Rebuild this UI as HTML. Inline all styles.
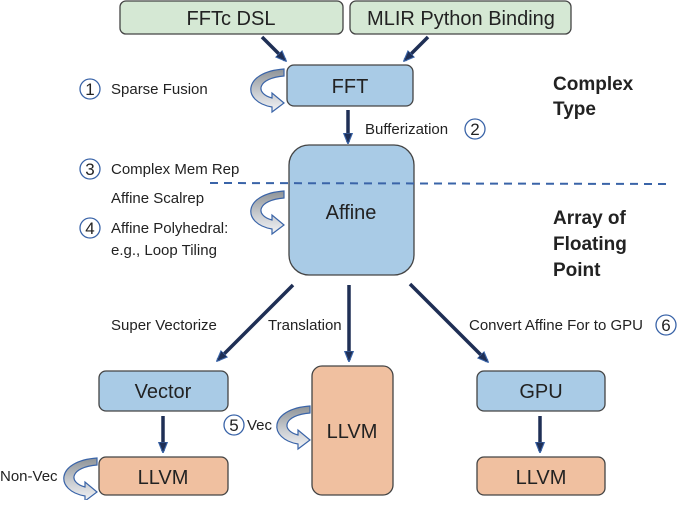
<!DOCTYPE html>
<html><head><meta charset="utf-8"><style>
body{margin:0;background:#fff}
svg text{font-family:"Liberation Sans",sans-serif}
</style></head><body>
<svg width="685" height="500" viewBox="0 0 685 500" xmlns="http://www.w3.org/2000/svg">
<defs>
<linearGradient id="g" x1="0" y1="0" x2="0" y2="1"><stop offset="0" stop-color="#8e9397"/><stop offset="0.55" stop-color="#c9ccd0"/><stop offset="1" stop-color="#f3f4f6"/></linearGradient>
<marker id="ah" viewBox="0 0 10 10" refX="8" refY="5" markerWidth="3.2" markerHeight="3.2" orient="auto"><path d="M0,1 L10,5 L0,9 z" fill="#1f2f55" stroke="#3a64a8" stroke-width="1"/></marker>
<g id="curl"><path d="M0,0 L0,7 C-26,9 -30,24 -12,29 L-12,24 L0,34 L-12,43 L-12,38 C-42,33 -42,3 0,0 Z" fill="url(#g)" stroke="#3a64a8" stroke-width="1.2"/></g>
</defs>
<g stroke="#444" stroke-width="1.3">
<rect x="120" y="1" width="223" height="33" rx="6" fill="#d5e8d4"/>
<rect x="350" y="1" width="221" height="33" rx="6" fill="#d5e8d4"/>
<rect x="287" y="65" width="126" height="41" rx="7" fill="#a9cbe6"/>
<rect x="289" y="145" width="125" height="130" rx="20" fill="#a9cbe6"/>
<rect x="99" y="371" width="129" height="40" rx="7" fill="#a9cbe6"/>
<rect x="477" y="371" width="128" height="40" rx="7" fill="#a9cbe6"/>
<rect x="312" y="366" width="81" height="129" rx="10" fill="#f0c0a0"/>
<rect x="99" y="457" width="129" height="38" rx="7" fill="#f0c0a0"/>
<rect x="477" y="457" width="128" height="38" rx="7" fill="#f0c0a0"/>
</g>
<line x1="210" y1="183" x2="670" y2="184" stroke="#3a64a8" stroke-width="2" stroke-dasharray="8,6"/>
<g stroke="#1f2f55" stroke-width="3.5" marker-end="url(#ah)" fill="none">
<line x1="262" y1="37" x2="285" y2="60"/>
<line x1="428" y1="37" x2="405" y2="60"/>
<line x1="348" y1="110" x2="348" y2="142"/>
<line x1="293" y1="285" x2="218" y2="360"/>
<line x1="349" y1="285" x2="349" y2="360"/>
<line x1="410" y1="284" x2="487" y2="361"/>
<line x1="163" y1="416" x2="163" y2="451"/>
<line x1="540" y1="416" x2="540" y2="451"/>
</g>
<use href="#curl" x="284" y="69"/>
<use href="#curl" x="284" y="191"/>
<use href="#curl" x="310" y="406"/>
<use href="#curl" x="97" y="458"/>
<g font-size="20" fill="#222" text-anchor="middle">
<text x="231" y="25">FFTc DSL</text>
<text x="461" y="25">MLIR Python Binding</text>
<text x="350" y="93">FFT</text>
<text x="351" y="219">Affine</text>
<text x="163" y="398">Vector</text>
<text x="541" y="398">GPU</text>
<text x="352" y="438">LLVM</text>
<text x="163" y="484">LLVM</text>
<text x="541" y="484">LLVM</text>
</g>
<g font-size="19" font-weight="bold" fill="#222">
<text x="553" y="90">Complex</text><text x="553" y="115">Type</text>
<text x="553" y="224">Array of</text><text x="553" y="250">Floating</text><text x="553" y="276">Point</text>
</g>
<g font-size="15" fill="#222">
<text x="111" y="94">Sparse Fusion</text>
<text x="365" y="134">Bufferization</text>
<text x="111" y="174">Complex Mem Rep</text>
<text x="111" y="203">Affine Scalrep</text>
<text x="111" y="233">Affine Polyhedral:</text>
<text x="111" y="255">e.g., Loop Tiling</text>
<text x="111" y="330">Super Vectorize</text>
<text x="268" y="330">Translation</text>
<text x="469" y="330">Convert Affine For to GPU</text>
<text x="247" y="430">Vec</text>
<text x="0" y="481">Non-Vec</text>
</g>
<g fill="#fff" stroke="#3a64a8" stroke-width="1.3">
<circle cx="90" cy="89" r="10"/><circle cx="475" cy="129" r="10"/><circle cx="90" cy="169" r="10"/>
<circle cx="90" cy="228" r="10"/><circle cx="234" cy="425" r="10"/><circle cx="666" cy="325" r="10"/>
</g>
<g font-size="17" fill="#222" text-anchor="middle">
<text x="90" y="95">1</text><text x="475" y="135">2</text><text x="90" y="175">3</text>
<text x="90" y="234">4</text><text x="234" y="431">5</text><text x="666" y="331">6</text>
</g>
</svg>
</body></html>
